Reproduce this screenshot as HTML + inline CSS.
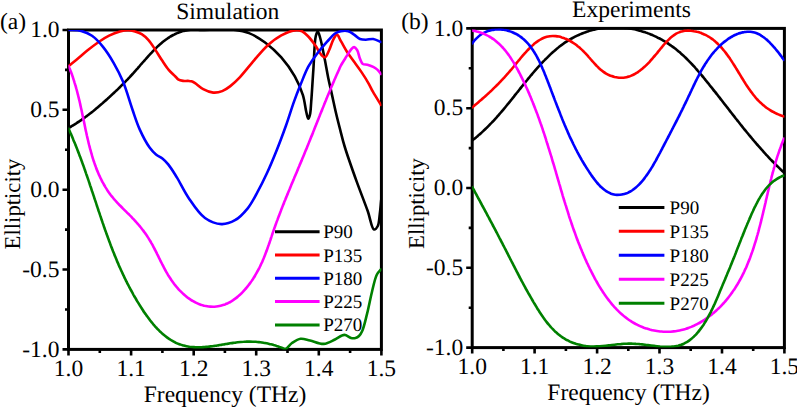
<!DOCTYPE html>
<html><head><meta charset="utf-8">
<style>
html,body{margin:0;padding:0;background:#fff;}
body{width:797px;height:408px;overflow:hidden;}
svg{display:block;text-rendering:geometricPrecision;}
.t{font-family:"Liberation Serif",serif;font-size:23.5px;fill:#000;}
.lg{font-family:"Liberation Serif",serif;font-size:19px;fill:#000;}
.ti{font-family:"Liberation Serif",serif;font-size:23.5px;fill:#000;}
</style></head><body>
<svg width="797" height="408" viewBox="0 0 797 408">
<rect x="68.5" y="30.0" width="312.9" height="319.4" fill="none" stroke="#000" stroke-width="3"/>
<path d="M68.5 349.4 V355.4 M99.8 349.4 V352.9 M131.1 349.4 V355.4 M162.4 349.4 V352.9 M193.7 349.4 V355.4 M224.9 349.4 V352.9 M256.2 349.4 V355.4 M287.5 349.4 V352.9 M318.8 349.4 V355.4 M350.1 349.4 V352.9 M381.4 349.4 V355.4 M68.5 30.0 H62.5 M68.5 69.9 H65.0 M68.5 109.8 H62.5 M68.5 149.8 H65.0 M68.5 189.7 H62.5 M68.5 229.6 H65.0 M68.5 269.5 H62.5 M68.5 309.5 H65.0 M68.5 349.4 H62.5" stroke="#000" stroke-width="2.6" fill="none"/>
<clipPath id="c68"><rect x="68.5" y="30.0" width="312.9" height="319.4"/></clipPath>
<g clip-path="url(#c68)" fill="none" stroke-width="2.6" stroke-linejoin="round" stroke-linecap="round">
<path stroke="#000000" d="M68.5 128.0 C69.4 127.5 70.3 127.0 71.2 126.5 C72.0 126.0 72.9 125.5 73.8 124.9 C74.7 124.4 75.5 123.8 76.4 123.3 C77.2 122.7 78.1 122.2 78.9 121.6 C79.8 121.1 80.6 120.5 81.5 119.9 C82.3 119.3 83.1 118.7 84.0 118.1 C84.8 117.5 85.6 116.9 86.4 116.3 C87.3 115.7 88.1 115.1 88.9 114.5 C89.7 113.9 90.5 113.2 91.3 112.6 C92.1 112.0 92.9 111.3 93.7 110.7 C94.5 110.1 95.3 109.4 96.0 108.8 C96.8 108.1 97.6 107.5 98.4 106.8 C99.2 106.1 99.9 105.5 100.7 104.8 C101.5 104.1 102.3 103.5 103.0 102.8 C103.8 102.1 104.5 101.5 105.3 100.8 C106.1 100.1 106.8 99.4 107.6 98.7 C108.3 98.0 109.1 97.4 109.8 96.7 C110.6 96.0 111.3 95.3 112.1 94.6 C112.8 93.9 113.6 93.2 114.3 92.5 C115.1 91.8 115.8 91.1 116.5 90.4 C117.3 89.7 118.0 89.0 118.7 88.3 C119.5 87.6 120.2 86.8 120.9 86.1 C121.6 85.4 122.4 84.7 123.1 84.0 C123.8 83.2 124.5 82.5 125.2 81.8 C125.9 81.1 126.7 80.3 127.4 79.6 C128.1 78.8 128.8 78.1 129.5 77.4 C130.2 76.6 130.9 75.9 131.5 75.1 C132.2 74.4 132.9 73.6 133.6 72.9 C134.3 72.1 135.0 71.3 135.6 70.6 C136.3 69.8 137.0 69.1 137.7 68.3 C138.3 67.5 139.0 66.8 139.7 66.0 C140.3 65.2 141.0 64.4 141.7 63.7 C142.3 62.9 143.0 62.1 143.7 61.4 C144.4 60.6 145.0 59.8 145.7 59.1 C146.4 58.3 147.1 57.5 147.7 56.8 C148.4 56.0 149.1 55.3 149.8 54.5 C150.5 53.8 151.2 53.0 151.9 52.3 C152.6 51.5 153.3 50.8 154.0 50.1 C154.7 49.4 155.4 48.6 156.2 47.9 C156.9 47.2 157.6 46.5 158.4 45.8 C159.1 45.1 159.9 44.4 160.7 43.8 C161.4 43.1 162.2 42.5 163.0 41.8 C163.8 41.2 164.6 40.6 165.4 40.0 C166.3 39.3 167.1 38.8 167.9 38.2 C168.8 37.6 169.6 37.1 170.5 36.5 C171.4 36.0 172.3 35.5 173.2 35.0 C174.1 34.6 175.0 34.1 175.9 33.7 C176.9 33.3 177.8 32.9 178.8 32.5 C179.7 32.2 180.7 31.8 181.6 31.5 C182.6 31.2 183.6 31.0 184.6 30.7 C185.6 30.5 186.6 30.3 187.6 30.2 C188.6 30.0 189.6 29.9 190.6 29.8 C191.7 29.7 192.7 29.6 193.7 29.6 C194.7 29.6 195.7 29.6 196.8 29.7 C197.8 29.7 198.2 29.8 199.8 29.9 C205.2 30.1 226.5 28.8 235.5 29.9 C241.1 30.6 244.4 31.3 249.0 33.1 C254.3 35.2 259.9 38.7 265.1 42.5 C270.7 46.7 276.4 51.9 281.3 57.4 C286.3 63.1 291.1 69.8 294.8 76.3 C298.2 82.4 301.0 88.9 302.9 95.1 C304.7 100.8 305.2 107.6 306.3 112.0 C307.0 114.8 307.6 118.8 308.3 118.8 C308.9 118.8 309.6 116.3 310.0 114.5 C310.7 111.5 310.8 107.2 311.2 102.0 C311.9 93.6 312.6 80.1 313.4 69.1 C314.2 58.1 314.3 41.9 315.8 36.0 C316.4 33.7 317.1 31.5 317.8 31.5 C318.6 31.5 319.4 35.2 320.2 38.0 C321.7 43.1 323.5 53.1 324.9 60.0 C326.1 66.2 327.0 72.0 328.2 77.7 C329.3 83.0 330.4 87.6 331.6 93.1 C333.0 99.3 334.5 106.6 336.0 113.0 C337.4 119.1 338.9 124.8 340.4 130.6 C341.8 136.2 342.8 140.6 344.8 147.0 C347.7 156.5 352.8 170.8 356.8 181.9 C360.5 192.1 364.7 202.6 367.8 211.3 C370.2 218.1 371.7 228.9 374.0 229.5 C375.2 229.8 376.9 227.7 377.8 226.0 C379.2 223.3 379.2 218.2 379.8 214.0 C380.4 209.5 380.7 204.7 381.2 200.0"/>
<path stroke="#ff0000" d="M68.5 66.2 C71.3 63.9 73.9 61.8 76.8 59.4 C80.2 56.6 84.0 53.2 87.6 50.3 C91.1 47.5 94.7 44.7 98.3 42.2 C101.8 39.8 105.4 37.5 109.1 35.7 C112.6 34.0 116.5 32.5 119.9 31.6 C122.8 30.8 125.4 30.3 128.0 30.3 C130.4 30.3 132.7 30.8 135.0 31.4 C137.3 32.0 139.6 32.8 141.7 34.1 C144.1 35.6 146.4 37.7 148.5 40.1 C150.9 42.8 153.0 46.3 155.2 49.6 C157.5 53.0 159.7 56.9 162.0 60.3 C164.2 63.6 166.3 67.0 168.7 69.8 C170.8 72.3 173.7 74.7 175.4 76.5 C176.5 77.6 177.0 78.6 178.1 79.3 C179.4 80.1 181.4 80.6 183.1 80.9 C184.7 81.2 186.5 80.8 188.0 80.9 C189.3 81.0 190.4 81.0 191.5 81.3 C192.7 81.7 193.7 82.2 195.1 83.1 C197.3 84.5 200.2 87.5 203.2 89.1 C206.2 90.7 209.9 92.3 213.2 92.6 C216.2 92.9 219.4 92.2 222.2 91.1 C225.1 90.0 227.6 88.2 230.3 86.1 C233.5 83.7 236.6 80.7 240.0 77.1 C244.4 72.4 249.6 65.5 254.3 60.1 C258.8 54.9 263.1 49.5 267.8 45.2 C272.1 41.3 276.6 37.8 281.3 35.3 C285.6 33.0 291.0 30.8 294.8 30.4 C297.5 30.1 299.8 30.4 302.0 31.3 C304.3 32.3 306.2 34.4 308.3 36.5 C310.8 39.0 313.4 42.7 315.6 45.8 C317.6 48.6 319.0 52.2 320.8 54.2 C322.1 55.7 323.7 57.6 325.0 57.3 C326.6 57.0 327.9 52.7 329.2 50.0 C330.7 46.9 331.8 42.4 333.3 39.6 C334.4 37.5 335.8 34.5 337.0 34.6 C338.3 34.7 339.5 38.8 340.9 41.2 C342.7 44.2 344.6 48.1 346.8 51.5 C349.0 55.0 351.7 58.4 354.1 61.8 C356.6 65.2 359.1 68.5 361.5 72.1 C364.0 75.8 366.8 80.2 368.8 83.8 C370.4 86.7 371.2 88.8 372.9 91.7 C375.1 95.6 378.3 100.6 381.0 105.0"/>
<path stroke="#0000ff" d="M68.5 29.9 C72.7 30.2 77.2 29.9 81.2 30.9 C85.0 31.9 88.6 33.4 92.0 35.8 C95.9 38.5 99.4 42.4 102.8 46.6 C106.6 51.3 110.3 57.1 113.6 62.8 C117.0 68.7 120.1 74.6 123.0 81.6 C126.5 90.0 129.6 101.4 132.6 110.0 C135.1 117.2 136.9 123.3 139.8 129.6 C142.6 135.8 146.4 143.0 149.6 147.5 C151.8 150.5 153.7 152.6 156.0 154.5 C158.0 156.2 160.4 156.9 162.4 158.5 C164.5 160.2 166.2 161.9 168.2 164.4 C171.0 167.8 173.9 172.7 177.0 177.6 C180.7 183.7 184.2 191.6 188.8 198.2 C193.5 205.1 198.9 213.7 205.0 218.0 C210.0 221.6 216.2 223.9 221.4 224.1 C226.1 224.3 230.8 222.6 235.0 220.2 C239.7 217.6 244.0 212.8 247.7 208.3 C251.5 203.6 254.2 198.0 257.3 192.4 C260.6 186.4 263.8 180.0 266.9 173.3 C270.2 166.2 273.3 158.7 276.4 151.0 C279.7 142.8 283.0 133.9 286.0 125.5 C288.9 117.4 291.4 108.8 294.0 101.6 C296.1 95.7 297.9 91.1 300.2 85.5 C302.7 79.5 305.3 72.2 308.3 66.7 C310.9 62.0 313.6 58.3 316.7 54.2 C319.9 50.0 323.8 45.4 327.1 41.7 C329.9 38.6 332.4 35.3 335.0 33.5 C337.0 32.2 338.8 31.6 340.9 31.2 C343.2 30.8 346.0 30.6 348.2 31.2 C350.4 31.8 352.2 33.3 354.1 34.6 C356.1 35.9 357.9 38.2 360.0 39.0 C361.9 39.7 363.8 39.7 365.9 39.7 C368.2 39.7 370.8 38.7 373.2 39.0 C375.8 39.4 378.4 41.0 381.0 42.0"/>
<path stroke="#ff00ff" d="M68.5 66.0 C68.9 66.9 69.3 67.9 69.7 68.8 C70.1 69.7 70.4 70.7 70.8 71.6 C71.2 72.5 71.5 73.5 71.9 74.4 C72.2 75.4 72.5 76.3 72.9 77.3 C73.2 78.2 73.5 79.2 73.8 80.2 C74.1 81.1 74.4 82.1 74.7 83.1 C75.0 84.0 75.3 85.0 75.6 86.0 C75.9 86.9 76.1 87.9 76.4 88.9 C76.7 89.8 76.9 90.8 77.2 91.8 C77.5 92.8 77.7 93.7 77.9 94.7 C78.2 95.7 78.4 96.7 78.7 97.7 C78.9 98.6 79.1 99.6 79.4 100.6 C79.6 101.6 79.8 102.6 80.1 103.6 C80.3 104.5 80.5 105.5 80.7 106.5 C80.9 107.5 81.1 108.5 81.4 109.5 C81.6 110.5 81.8 111.4 82.0 112.4 C82.2 113.4 82.4 114.4 82.6 115.4 C82.8 116.4 83.0 117.4 83.2 118.3 C83.4 119.3 83.6 120.3 83.9 121.3 C84.1 122.3 84.3 123.3 84.5 124.3 C84.7 125.3 84.9 126.3 85.1 127.2 C85.3 128.2 85.5 129.2 85.7 130.2 C85.9 131.2 86.2 132.2 86.4 133.2 C86.6 134.1 86.8 135.1 87.0 136.1 C87.3 137.1 87.5 138.1 87.7 139.1 C87.9 140.0 88.2 141.0 88.4 142.0 C88.6 143.0 88.9 144.0 89.1 144.9 C89.4 145.9 89.6 146.9 89.9 147.9 C90.1 148.9 90.4 149.8 90.7 150.8 C90.9 151.8 91.2 152.7 91.5 153.7 C91.8 154.7 92.0 155.7 92.3 156.6 C92.6 157.6 92.9 158.5 93.2 159.5 C93.5 160.5 93.9 161.4 94.2 162.4 C94.5 163.3 94.8 164.3 95.2 165.2 C95.5 166.2 95.9 167.1 96.2 168.1 C96.6 169.0 97.0 170.0 97.3 170.9 C97.7 171.8 98.1 172.8 98.5 173.7 C98.9 174.6 99.3 175.5 99.8 176.4 C100.2 177.4 100.6 178.3 101.1 179.2 C101.5 180.1 102.0 181.0 102.4 181.9 C102.9 182.8 103.4 183.6 103.9 184.5 C104.4 185.4 104.9 186.3 105.4 187.1 C106.0 188.0 106.5 188.8 107.0 189.7 C107.6 190.5 108.2 191.4 108.7 192.2 C109.3 193.0 109.9 193.8 110.5 194.7 C111.1 195.5 111.7 196.3 112.4 197.0 C113.0 197.8 113.7 198.6 114.3 199.4 C115.0 200.1 115.6 200.9 116.3 201.6 C117.0 202.4 117.7 203.1 118.4 203.8 C119.1 204.6 119.8 205.3 120.5 206.0 C121.2 206.7 121.9 207.4 122.6 208.2 C123.4 208.9 124.1 209.6 124.8 210.3 C125.5 211.0 126.2 211.7 126.9 212.4 C127.7 213.1 128.4 213.8 129.1 214.5 C129.8 215.3 130.5 216.0 131.2 216.7 C131.9 217.4 132.6 218.2 133.3 218.9 C134.0 219.6 134.7 220.4 135.3 221.1 C136.0 221.9 136.7 222.6 137.3 223.4 C138.0 224.2 138.7 224.9 139.3 225.7 C140.0 226.5 140.6 227.3 141.2 228.0 C141.8 228.8 142.5 229.6 143.1 230.4 C143.7 231.2 144.3 232.0 144.9 232.9 C145.5 233.7 146.0 234.5 146.6 235.3 C147.2 236.2 147.7 237.0 148.3 237.9 C148.8 238.7 149.3 239.6 149.9 240.5 C150.4 241.3 150.9 242.2 151.4 243.1 C151.9 243.9 152.4 244.8 152.9 245.7 C153.3 246.6 153.8 247.5 154.3 248.4 C154.7 249.3 155.2 250.2 155.7 251.1 C156.1 252.0 156.6 252.9 157.0 253.8 C157.5 254.7 157.9 255.6 158.4 256.5 C158.8 257.4 159.2 258.3 159.7 259.2 C160.1 260.1 160.6 261.0 161.0 261.9 C161.5 262.8 161.9 263.7 162.4 264.6 C162.9 265.5 163.3 266.4 163.8 267.3 C164.3 268.2 164.7 269.1 165.2 270.0 C165.7 270.9 166.2 271.7 166.7 272.6 C167.2 273.5 167.7 274.4 168.2 275.2 C168.8 276.1 169.3 276.9 169.9 277.8 C170.4 278.6 171.0 279.5 171.5 280.3 C172.1 281.1 172.7 282.0 173.3 282.8 C173.9 283.6 174.5 284.4 175.1 285.2 C175.8 286.0 176.4 286.7 177.1 287.5 C177.7 288.3 178.4 289.0 179.1 289.8 C179.8 290.5 180.5 291.2 181.2 291.9 C181.9 292.6 182.6 293.3 183.4 294.0 C184.1 294.7 184.9 295.4 185.7 296.0 C186.4 296.6 187.2 297.3 188.0 297.9 C188.9 298.5 189.7 299.1 190.5 299.6 C191.4 300.2 192.2 300.7 193.1 301.2 C194.0 301.7 194.9 302.2 195.8 302.6 C196.7 303.1 197.6 303.5 198.5 303.9 C199.4 304.3 200.4 304.6 201.3 304.9 C202.3 305.3 203.3 305.5 204.3 305.8 C205.2 306.0 206.2 306.2 207.2 306.3 C208.2 306.5 209.2 306.6 210.2 306.6 C211.3 306.7 212.3 306.7 213.3 306.7 C214.3 306.7 215.3 306.6 216.3 306.5 C217.3 306.4 218.3 306.3 219.3 306.1 C220.3 305.9 221.3 305.6 222.2 305.3 C223.2 305.1 224.1 304.7 225.1 304.4 C226.0 304.0 227.0 303.6 227.9 303.2 C228.8 302.7 229.7 302.3 230.5 301.8 C231.4 301.3 232.3 300.7 233.1 300.2 C234.0 299.6 234.8 299.0 235.6 298.4 C236.4 297.8 237.2 297.2 237.9 296.5 C238.7 295.9 239.5 295.2 240.2 294.5 C240.9 293.8 241.7 293.1 242.4 292.4 C243.1 291.7 243.8 290.9 244.4 290.2 C245.1 289.4 245.8 288.7 246.4 287.9 C247.1 287.1 247.7 286.3 248.3 285.5 C248.9 284.7 249.5 283.9 250.1 283.1 C250.7 282.3 251.3 281.5 251.9 280.6 C252.4 279.8 253.0 279.0 253.5 278.1 C254.1 277.3 254.6 276.4 255.1 275.5 C255.6 274.7 256.1 273.8 256.6 272.9 C257.1 272.0 257.6 271.1 258.1 270.3 C258.6 269.4 259.0 268.5 259.5 267.6 C259.9 266.7 260.4 265.8 260.8 264.8 C261.2 263.9 261.6 263.0 262.1 262.1 C262.5 261.2 262.9 260.2 263.3 259.3 C263.7 258.4 264.0 257.5 264.4 256.5 C264.8 255.6 265.2 254.6 265.5 253.7 C265.9 252.8 266.2 251.8 266.6 250.9 C266.9 249.9 267.3 249.0 267.6 248.0 C267.9 247.1 268.3 246.1 268.6 245.2 C268.9 244.2 269.3 243.3 269.6 242.3 C269.9 241.3 270.2 240.4 270.6 239.4 C270.9 238.5 271.2 237.5 271.5 236.6 C271.8 235.6 272.2 234.7 272.5 233.7 C272.8 232.7 273.1 231.8 273.5 230.8 C273.8 229.9 274.1 228.9 274.5 228.0 C274.8 227.0 275.2 226.1 275.5 225.1 C275.8 224.2 276.2 223.2 276.5 222.3 C276.9 221.3 277.2 220.4 277.6 219.4 C277.9 218.5 278.3 217.6 278.6 216.6 C279.0 215.7 279.4 214.7 279.7 213.8 C280.1 212.8 280.4 211.9 280.8 211.0 C281.2 210.0 281.5 209.1 281.9 208.1 C282.3 207.2 282.6 206.3 283.0 205.3 C283.4 204.4 283.8 203.4 284.1 202.5 C284.5 201.6 284.9 200.6 285.3 199.7 C285.6 198.8 286.0 197.8 286.4 196.9 C286.8 196.0 287.2 195.0 287.6 194.1 C287.9 193.2 288.3 192.2 288.7 191.3 C289.1 190.4 289.5 189.4 289.9 188.5 C290.2 187.6 290.6 186.6 291.0 185.7 C291.4 184.8 291.8 183.8 292.2 182.9 C292.6 182.0 293.0 181.0 293.4 180.1 C293.7 179.2 294.1 178.3 294.5 177.3 C294.9 176.4 295.3 175.5 295.7 174.5 C296.1 173.6 296.5 172.7 296.9 171.7 C297.3 170.8 297.7 169.9 298.0 169.0 C298.4 168.0 298.8 167.1 299.2 166.2 C299.6 165.2 300.0 164.3 300.4 163.4 C300.8 162.4 301.2 161.5 301.6 160.6 C301.9 159.7 302.3 158.7 302.7 157.8 C303.1 156.9 303.5 155.9 303.9 155.0 C304.3 154.1 304.7 153.1 305.0 152.2 C305.4 151.3 305.8 150.3 306.2 149.4 C306.6 148.5 307.0 147.5 307.3 146.6 C307.7 145.7 308.1 144.7 308.5 143.8 C308.9 142.9 309.2 141.9 309.6 141.0 C310.0 140.1 310.4 139.1 310.7 138.2 C311.1 137.2 311.5 136.3 311.9 135.4 C312.3 134.4 312.6 133.5 313.0 132.6 C313.4 131.6 313.7 130.7 314.1 129.7 C314.5 128.8 314.9 127.9 315.2 126.9 C315.6 126.0 316.0 125.1 316.4 124.1 C316.7 123.2 317.1 122.2 317.5 121.3 C317.8 120.4 318.2 119.4 318.6 118.5 C319.0 117.6 319.3 116.6 319.7 115.7 C320.1 114.7 320.5 113.8 320.8 112.9 C321.2 111.9 321.6 111.0 322.0 110.1 C322.3 109.1 322.7 108.2 323.1 107.3 C323.5 106.3 323.8 105.4 324.2 104.4 C324.6 103.5 325.0 102.6 325.4 101.6 C325.7 100.7 326.1 99.8 326.5 98.8 C326.9 97.9 327.3 97.0 327.6 96.0 C328.0 95.1 328.4 94.2 328.8 93.2 C329.2 92.3 329.6 91.4 330.0 90.4 C330.4 89.5 330.7 88.6 331.1 87.7 C331.5 86.7 331.9 85.8 332.3 84.9 C332.7 83.9 333.1 83.0 333.5 82.1 C333.9 81.2 334.3 80.2 334.7 79.3 C335.1 78.4 335.5 77.5 335.9 76.5 C336.3 75.6 336.7 74.7 337.1 73.8 C337.6 72.8 338.0 71.9 338.4 71.0 C338.8 70.1 339.2 69.2 339.6 68.2 C340.1 67.3 340.3 66.7 340.9 65.5 C342.1 63.2 345.0 58.8 346.8 55.9 C348.4 53.5 349.8 50.8 351.2 49.3 C352.2 48.3 353.1 47.0 354.1 47.1 C355.1 47.2 356.2 48.6 357.1 50.0 C358.4 52.0 358.9 56.3 360.0 58.8 C360.9 60.8 361.5 63.0 362.9 64.0 C364.1 64.8 365.8 64.3 367.4 64.7 C369.2 65.2 371.4 66.0 373.2 66.9 C374.8 67.7 376.3 68.7 377.6 69.9 C378.9 71.1 379.9 72.6 381.0 74.0"/>
<path stroke="#008000" d="M68.5 128.6 C68.9 129.5 69.3 130.4 69.7 131.4 C70.1 132.3 70.6 133.2 71.0 134.1 C71.4 135.1 71.8 136.0 72.2 136.9 C72.6 137.9 73.0 138.8 73.3 139.7 C73.7 140.7 74.1 141.6 74.5 142.5 C74.9 143.5 75.3 144.4 75.6 145.3 C76.0 146.3 76.4 147.2 76.8 148.2 C77.1 149.1 77.5 150.0 77.9 151.0 C78.2 151.9 78.6 152.9 79.0 153.8 C79.3 154.8 79.7 155.7 80.0 156.6 C80.4 157.6 80.7 158.5 81.1 159.5 C81.4 160.4 81.8 161.4 82.1 162.3 C82.5 163.3 82.8 164.2 83.2 165.2 C83.5 166.1 83.9 167.1 84.2 168.0 C84.5 169.0 84.9 170.0 85.2 170.9 C85.5 171.9 85.9 172.8 86.2 173.8 C86.5 174.7 86.9 175.7 87.2 176.6 C87.5 177.6 87.9 178.6 88.2 179.5 C88.5 180.5 88.8 181.4 89.2 182.4 C89.5 183.3 89.8 184.3 90.1 185.3 C90.4 186.2 90.8 187.2 91.1 188.1 C91.4 189.1 91.7 190.1 92.0 191.0 C92.4 192.0 92.7 192.9 93.0 193.9 C93.3 194.9 93.6 195.8 94.0 196.8 C94.3 197.7 94.6 198.7 94.9 199.7 C95.2 200.6 95.6 201.6 95.9 202.5 C96.2 203.5 96.5 204.5 96.8 205.4 C97.1 206.4 97.5 207.3 97.8 208.3 C98.1 209.3 98.4 210.2 98.7 211.2 C99.1 212.1 99.4 213.1 99.7 214.0 C100.0 215.0 100.3 216.0 100.7 216.9 C101.0 217.9 101.3 218.8 101.6 219.8 C102.0 220.8 102.3 221.7 102.6 222.7 C103.0 223.6 103.3 224.6 103.6 225.5 C103.9 226.5 104.3 227.4 104.6 228.4 C104.9 229.4 105.3 230.3 105.6 231.3 C106.0 232.2 106.3 233.2 106.6 234.1 C107.0 235.1 107.3 236.0 107.7 237.0 C108.0 237.9 108.4 238.9 108.7 239.8 C109.1 240.8 109.4 241.7 109.8 242.7 C110.1 243.6 110.5 244.6 110.8 245.5 C111.2 246.4 111.6 247.4 111.9 248.3 C112.3 249.3 112.7 250.2 113.0 251.2 C113.4 252.1 113.8 253.0 114.2 254.0 C114.5 254.9 114.9 255.9 115.3 256.8 C115.7 257.7 116.1 258.7 116.5 259.6 C116.8 260.5 117.2 261.5 117.6 262.4 C118.0 263.3 118.4 264.2 118.8 265.2 C119.2 266.1 119.6 267.0 120.1 268.0 C120.5 268.9 120.9 269.8 121.3 270.7 C121.7 271.6 122.1 272.6 122.6 273.5 C123.0 274.4 123.4 275.3 123.9 276.2 C124.3 277.1 124.7 278.0 125.2 279.0 C125.6 279.9 126.1 280.8 126.5 281.7 C127.0 282.6 127.4 283.5 127.9 284.4 C128.4 285.3 128.8 286.2 129.3 287.1 C129.8 288.0 130.2 288.9 130.7 289.8 C131.2 290.6 131.7 291.5 132.2 292.4 C132.7 293.3 133.1 294.2 133.6 295.1 C134.1 295.9 134.6 296.8 135.2 297.7 C135.7 298.6 136.2 299.4 136.7 300.3 C137.2 301.2 137.7 302.0 138.3 302.9 C138.8 303.8 139.3 304.6 139.9 305.5 C140.4 306.3 140.9 307.2 141.5 308.0 C142.0 308.9 142.6 309.7 143.1 310.6 C143.7 311.4 144.3 312.3 144.8 313.1 C145.4 313.9 146.0 314.8 146.6 315.6 C147.2 316.4 147.8 317.2 148.4 318.0 C149.0 318.9 149.6 319.7 150.2 320.5 C150.8 321.3 151.5 322.0 152.1 322.8 C152.7 323.6 153.4 324.4 154.0 325.2 C154.7 325.9 155.4 326.7 156.1 327.4 C156.7 328.2 157.4 328.9 158.1 329.6 C158.9 330.3 159.6 331.1 160.3 331.8 C161.0 332.4 161.8 333.1 162.5 333.8 C163.3 334.5 164.1 335.1 164.9 335.8 C165.7 336.4 166.5 337.0 167.3 337.6 C168.1 338.2 168.9 338.8 169.8 339.3 C170.6 339.9 171.5 340.4 172.4 340.9 C173.2 341.4 174.1 341.9 175.0 342.3 C175.9 342.8 176.9 343.2 177.8 343.6 C178.7 344.0 179.7 344.3 180.6 344.6 C181.6 345.0 182.6 345.2 183.6 345.5 C184.5 345.8 185.5 346.0 186.5 346.2 C187.5 346.4 188.5 346.5 189.5 346.7 C190.5 346.8 191.5 346.9 192.5 347.0 C193.5 347.1 194.5 347.1 195.5 347.2 C196.6 347.2 197.6 347.2 198.6 347.2 C199.6 347.2 200.6 347.2 201.6 347.2 C202.6 347.1 203.6 347.1 204.6 347.0 C205.7 346.9 206.7 346.9 207.7 346.8 C208.7 346.7 209.7 346.5 210.7 346.4 C211.7 346.3 212.7 346.2 213.7 346.0 C214.7 345.9 215.7 345.7 216.7 345.6 C217.7 345.4 218.7 345.3 219.7 345.1 C220.7 344.9 221.7 344.8 222.7 344.6 C223.7 344.4 224.7 344.3 225.7 344.1 C226.7 343.9 227.7 343.8 228.7 343.6 C229.7 343.5 230.7 343.3 231.7 343.1 C232.7 343.0 233.7 342.8 234.7 342.7 C235.7 342.6 236.7 342.4 237.7 342.3 C238.7 342.2 239.7 342.1 240.7 342.0 C241.7 341.9 242.7 341.8 243.7 341.8 C244.7 341.7 245.7 341.7 246.7 341.6 C247.8 341.6 248.8 341.6 249.8 341.6 C250.8 341.6 251.8 341.6 252.8 341.7 C253.8 341.7 254.8 341.8 255.8 341.8 C256.8 341.9 257.9 342.0 258.9 342.1 C259.9 342.2 260.9 342.4 261.9 342.5 C262.9 342.7 263.9 342.8 264.9 343.0 C265.9 343.2 266.9 343.4 267.8 343.6 C268.8 343.8 269.8 344.1 270.8 344.3 C271.8 344.5 272.8 344.8 273.7 345.1 C274.7 345.4 275.7 345.6 276.6 346.0 C277.6 346.3 278.6 346.6 279.5 346.9 C280.5 347.2 281.4 347.6 282.4 347.9 C283.3 348.3 284.1 349.2 285.2 349.0 C287.1 348.7 289.5 344.7 292.0 343.0 C294.6 341.3 297.6 339.2 300.6 338.8 C303.6 338.4 306.6 339.8 310.0 340.5 C314.2 341.4 319.5 344.2 323.8 343.9 C327.8 343.6 331.5 341.1 335.0 339.5 C338.3 338.0 341.5 334.9 344.4 334.9 C346.8 334.9 349.0 337.4 351.0 337.9 C352.6 338.3 354.1 338.3 355.5 338.0 C356.8 337.7 358.0 337.0 359.0 336.0 C360.3 334.8 361.2 333.3 362.2 331.0 C364.0 327.1 365.5 319.8 367.1 313.7 C368.8 306.8 370.3 298.6 372.0 291.7 C373.5 285.6 374.9 278.4 376.9 274.5 C378.1 272.1 379.6 271.1 381.0 269.4"/>
</g>
<text x="68.5" y="375.7" text-anchor="middle" class="t">1.0</text>
<text x="131.1" y="375.7" text-anchor="middle" class="t">1.1</text>
<text x="193.7" y="375.7" text-anchor="middle" class="t">1.2</text>
<text x="256.2" y="375.7" text-anchor="middle" class="t">1.3</text>
<text x="318.8" y="375.7" text-anchor="middle" class="t">1.4</text>
<text x="381.4" y="375.7" text-anchor="middle" class="t">1.5</text>
<text x="59.5" y="37.2" text-anchor="end" class="t">1.0</text>
<text x="59.5" y="117.0" text-anchor="end" class="t">0.5</text>
<text x="59.5" y="196.9" text-anchor="end" class="t">0.0</text>
<text x="59.5" y="276.7" text-anchor="end" class="t">-0.5</text>
<text x="59.5" y="356.6" text-anchor="end" class="t">-1.0</text>
<path d="M275.0 231.7 H319.6" stroke="#000000" stroke-width="3" fill="none"/>
<text x="323.3" y="238.2" class="lg">P90</text>
<path d="M275.0 255.0 H319.6" stroke="#ff0000" stroke-width="3" fill="none"/>
<text x="323.3" y="261.5" class="lg">P135</text>
<path d="M275.0 278.3 H319.6" stroke="#0000ff" stroke-width="3" fill="none"/>
<text x="323.3" y="284.8" class="lg">P180</text>
<path d="M275.0 301.6 H319.6" stroke="#ff00ff" stroke-width="3" fill="none"/>
<text x="323.3" y="308.1" class="lg">P225</text>
<path d="M275.0 324.9 H319.6" stroke="#008000" stroke-width="3" fill="none"/>
<text x="323.3" y="331.4" class="lg">P270</text>
<text x="227.8" y="18.8" text-anchor="middle" class="ti">Simulation</text>
<text x="0.0" y="28.8" class="ti">(a)</text>
<text x="225.0" y="402.4" text-anchor="middle" class="ti">Frequency (THz)</text>
<text transform="translate(20.2 204.0) rotate(-90)" text-anchor="middle" class="ti" style="font-size:22.7px">Ellipticity</text>
<rect x="472.2" y="28.4" width="312.2" height="319.2" fill="none" stroke="#000" stroke-width="3"/>
<path d="M472.2 347.6 V353.6 M503.4 347.6 V351.1 M534.6 347.6 V353.6 M565.9 347.6 V351.1 M597.1 347.6 V353.6 M628.3 347.6 V351.1 M659.5 347.6 V353.6 M690.7 347.6 V351.1 M722.0 347.6 V353.6 M753.2 347.6 V351.1 M784.4 347.6 V353.6 M472.2 28.4 H466.2 M472.2 68.3 H468.7 M472.2 108.2 H466.2 M472.2 148.1 H468.7 M472.2 188.0 H466.2 M472.2 227.9 H468.7 M472.2 267.8 H466.2 M472.2 307.7 H468.7 M472.2 347.6 H466.2" stroke="#000" stroke-width="2.6" fill="none"/>
<clipPath id="c472"><rect x="472.2" y="28.4" width="312.2" height="319.2"/></clipPath>
<g clip-path="url(#c472)" fill="none" stroke-width="2.6" stroke-linejoin="round" stroke-linecap="round">
<path stroke="#000000" d="M472.2 140.5 C473.0 139.9 473.8 139.2 474.6 138.6 C475.4 138.0 476.1 137.3 476.9 136.7 C477.7 136.0 478.5 135.4 479.2 134.7 C480.0 134.0 480.7 133.4 481.5 132.7 C482.2 132.0 483.0 131.3 483.7 130.6 C484.5 129.9 485.2 129.2 485.9 128.5 C486.6 127.8 487.4 127.1 488.1 126.4 C488.8 125.7 489.5 125.0 490.2 124.2 C490.9 123.5 491.6 122.8 492.3 122.0 C493.0 121.3 493.7 120.6 494.4 119.8 C495.0 119.1 495.7 118.3 496.4 117.6 C497.1 116.8 497.7 116.1 498.4 115.3 C499.1 114.5 499.7 113.8 500.4 113.0 C501.1 112.2 501.7 111.5 502.4 110.7 C503.0 109.9 503.7 109.2 504.3 108.4 C505.0 107.6 505.6 106.8 506.3 106.0 C506.9 105.3 507.5 104.5 508.2 103.7 C508.8 102.9 509.4 102.1 510.1 101.3 C510.7 100.5 511.4 99.8 512.0 99.0 C512.6 98.2 513.2 97.4 513.9 96.6 C514.5 95.8 515.1 95.0 515.8 94.2 C516.4 93.4 517.0 92.6 517.7 91.9 C518.3 91.1 518.9 90.3 519.5 89.5 C520.2 88.7 520.8 87.9 521.4 87.1 C522.1 86.3 522.7 85.5 523.3 84.7 C524.0 83.9 524.6 83.2 525.2 82.4 C525.9 81.6 526.5 80.8 527.2 80.0 C527.8 79.2 528.4 78.5 529.1 77.7 C529.7 76.9 530.4 76.1 531.0 75.3 C531.7 74.6 532.3 73.8 533.0 73.0 C533.6 72.3 534.3 71.5 535.0 70.7 C535.6 70.0 536.3 69.2 537.0 68.4 C537.6 67.7 538.3 66.9 539.0 66.2 C539.7 65.4 540.3 64.7 541.0 63.9 C541.7 63.2 542.4 62.5 543.1 61.7 C543.8 61.0 544.5 60.3 545.2 59.5 C545.9 58.8 546.6 58.1 547.4 57.4 C548.1 56.7 548.8 56.0 549.5 55.3 C550.3 54.6 551.0 53.9 551.7 53.2 C552.5 52.5 553.2 51.8 554.0 51.2 C554.8 50.5 555.5 49.9 556.3 49.2 C557.1 48.6 557.9 47.9 558.7 47.3 C559.5 46.7 560.3 46.0 561.1 45.4 C561.9 44.8 562.7 44.2 563.5 43.6 C564.3 43.1 565.2 42.5 566.0 41.9 C566.9 41.4 567.7 40.8 568.6 40.3 C569.4 39.8 570.3 39.2 571.2 38.7 C572.1 38.2 572.9 37.8 573.8 37.3 C574.7 36.8 575.6 36.4 576.6 35.9 C577.5 35.5 578.4 35.1 579.3 34.7 C580.2 34.3 581.2 33.9 582.1 33.5 C583.1 33.1 584.0 32.8 585.0 32.4 C585.9 32.1 586.9 31.8 587.8 31.4 C588.8 31.1 589.8 30.8 590.7 30.6 C591.7 30.3 592.7 30.0 593.7 29.8 C594.6 29.6 595.6 29.3 596.6 29.1 C597.6 28.9 598.6 28.7 599.6 28.5 C600.6 28.4 601.6 28.2 602.6 28.1 C603.6 27.9 604.6 27.8 605.6 27.7 C606.6 27.6 607.6 27.5 608.6 27.4 C609.6 27.4 610.7 27.3 611.7 27.3 C612.7 27.2 613.7 27.2 614.7 27.2 C615.7 27.2 616.7 27.2 617.7 27.2 C618.7 27.3 619.8 27.3 620.8 27.4 C621.8 27.4 622.8 27.5 623.8 27.6 C624.8 27.7 625.8 27.8 626.8 28.0 C627.8 28.1 628.8 28.3 629.8 28.4 C630.8 28.6 631.8 28.8 632.8 29.0 C633.8 29.2 634.8 29.4 635.7 29.6 C636.7 29.9 637.7 30.1 638.7 30.4 C639.7 30.6 640.6 30.9 641.6 31.2 C642.6 31.5 643.5 31.8 644.5 32.1 C645.5 32.4 646.4 32.8 647.4 33.1 C648.3 33.5 649.3 33.8 650.2 34.2 C651.1 34.6 652.1 35.0 653.0 35.4 C653.9 35.8 654.8 36.2 655.8 36.6 C656.7 37.1 657.6 37.5 658.5 38.0 C659.4 38.4 660.3 38.9 661.2 39.4 C662.1 39.9 662.9 40.4 663.8 40.9 C664.7 41.4 665.5 41.9 666.4 42.5 C667.3 43.0 668.1 43.5 668.9 44.1 C669.8 44.7 670.6 45.2 671.4 45.8 C672.3 46.4 673.1 47.0 673.9 47.6 C674.7 48.2 675.5 48.9 676.3 49.5 C677.1 50.1 677.9 50.8 678.6 51.4 C679.4 52.1 680.2 52.7 680.9 53.4 C681.7 54.1 682.4 54.7 683.2 55.4 C683.9 56.1 684.6 56.8 685.4 57.5 C686.1 58.2 686.8 58.9 687.5 59.6 C688.3 60.4 689.0 61.1 689.7 61.8 C690.4 62.5 691.1 63.3 691.8 64.0 C692.5 64.7 693.1 65.5 693.8 66.2 C694.5 67.0 695.2 67.7 695.8 68.5 C696.5 69.3 697.2 70.0 697.8 70.8 C698.5 71.5 699.2 72.3 699.8 73.1 C700.5 73.9 701.1 74.6 701.8 75.4 C702.4 76.2 703.1 77.0 703.7 77.7 C704.3 78.5 705.0 79.3 705.6 80.1 C706.3 80.9 706.9 81.7 707.5 82.5 C708.2 83.2 708.8 84.0 709.4 84.8 C710.1 85.6 710.7 86.4 711.3 87.2 C712.0 88.0 712.6 88.8 713.2 89.6 C713.8 90.4 714.5 91.2 715.1 91.9 C715.7 92.7 716.3 93.5 717.0 94.3 C717.6 95.1 718.2 95.9 718.8 96.7 C719.5 97.5 720.1 98.3 720.7 99.1 C721.3 99.9 722.0 100.7 722.6 101.5 C723.2 102.3 723.8 103.1 724.4 103.9 C725.1 104.7 725.7 105.5 726.3 106.3 C726.9 107.1 727.5 107.9 728.2 108.7 C728.8 109.5 729.4 110.3 730.0 111.1 C730.6 111.9 731.3 112.7 731.9 113.5 C732.5 114.3 733.1 115.1 733.8 115.9 C734.4 116.7 735.0 117.5 735.6 118.3 C736.3 119.0 736.9 119.8 737.5 120.6 C738.1 121.4 738.8 122.2 739.4 123.0 C740.0 123.8 740.7 124.6 741.3 125.4 C741.9 126.2 742.6 127.0 743.2 127.8 C743.8 128.5 744.5 129.3 745.1 130.1 C745.7 130.9 746.4 131.7 747.0 132.5 C747.7 133.3 748.3 134.0 748.9 134.8 C749.6 135.6 750.2 136.4 750.9 137.1 C751.5 137.9 752.2 138.7 752.8 139.5 C753.5 140.2 754.1 141.0 754.8 141.8 C755.4 142.6 756.1 143.3 756.8 144.1 C757.4 144.9 758.1 145.6 758.8 146.4 C759.4 147.1 760.1 147.9 760.8 148.7 C761.4 149.4 762.1 150.2 762.8 150.9 C763.5 151.7 764.1 152.4 764.8 153.2 C765.5 153.9 766.2 154.7 766.9 155.4 C767.6 156.1 768.3 156.9 768.9 157.6 C769.6 158.4 770.3 159.1 771.0 159.8 C771.7 160.5 772.4 161.3 773.2 162.0 C773.9 162.7 774.6 163.4 775.3 164.2 C776.0 164.9 776.7 165.6 777.4 166.3 C778.2 167.0 778.9 167.7 779.6 168.4 C780.3 169.1 781.1 169.8 781.8 170.5 C782.5 171.2 783.3 171.9 784.0 172.6"/>
<path stroke="#ff0000" d="M472.2 107.4 C473.0 106.8 473.8 106.1 474.5 105.5 C475.3 104.8 476.1 104.2 476.9 103.5 C477.7 102.9 478.4 102.2 479.2 101.5 C480.0 100.9 480.7 100.2 481.5 99.6 C482.3 98.9 483.0 98.2 483.8 97.5 C484.6 96.9 485.3 96.2 486.1 95.5 C486.8 94.8 487.6 94.1 488.3 93.5 C489.1 92.8 489.8 92.1 490.5 91.4 C491.3 90.7 492.0 90.0 492.7 89.3 C493.5 88.6 494.2 87.9 494.9 87.2 C495.6 86.4 496.4 85.7 497.1 85.0 C497.8 84.3 498.5 83.6 499.2 82.8 C499.9 82.1 500.6 81.4 501.3 80.6 C502.0 79.9 502.7 79.2 503.4 78.4 C504.1 77.7 504.8 76.9 505.5 76.2 C506.1 75.4 506.8 74.7 507.5 73.9 C508.2 73.1 508.8 72.4 509.5 71.6 C510.2 70.8 510.8 70.1 511.5 69.3 C512.1 68.5 512.8 67.7 513.4 67.0 C514.1 66.2 514.7 65.4 515.4 64.6 C516.0 63.8 516.6 63.0 517.3 62.2 C517.9 61.5 518.5 60.7 519.2 59.9 C519.8 59.1 520.5 58.3 521.1 57.5 C521.8 56.7 522.4 56.0 523.1 55.2 C523.8 54.4 524.4 53.7 525.1 52.9 C525.8 52.2 526.5 51.4 527.2 50.7 C527.9 49.9 528.6 49.2 529.3 48.5 C530.0 47.8 530.7 47.1 531.5 46.4 C532.2 45.7 533.0 45.0 533.7 44.3 C534.5 43.7 535.3 43.0 536.1 42.4 C536.9 41.8 537.7 41.2 538.6 40.6 C539.4 40.1 540.3 39.6 541.2 39.1 C542.1 38.6 543.0 38.2 543.9 37.8 C544.9 37.4 545.8 37.1 546.8 36.8 C547.8 36.6 548.8 36.4 549.8 36.2 C550.8 36.1 551.8 36.0 552.8 36.0 C553.8 36.0 554.9 36.0 555.9 36.1 C556.9 36.2 557.9 36.4 558.9 36.6 C559.9 36.8 560.9 37.1 561.8 37.4 C562.8 37.7 563.8 38.0 564.7 38.4 C565.6 38.7 566.6 39.2 567.5 39.6 C568.4 40.0 569.3 40.5 570.2 41.0 C571.1 41.5 571.9 42.0 572.8 42.6 C573.6 43.1 574.5 43.7 575.3 44.3 C576.1 44.9 576.9 45.5 577.7 46.2 C578.5 46.8 579.3 47.4 580.1 48.1 C580.8 48.8 581.6 49.5 582.3 50.2 C583.0 50.9 583.8 51.6 584.5 52.3 C585.2 53.0 585.9 53.8 586.6 54.5 C587.3 55.3 587.9 56.0 588.6 56.8 C589.3 57.5 589.9 58.3 590.6 59.1 C591.3 59.8 591.9 60.6 592.6 61.4 C593.3 62.1 593.9 62.9 594.6 63.6 C595.3 64.4 596.0 65.1 596.7 65.9 C597.4 66.6 598.1 67.3 598.8 68.0 C599.6 68.7 600.3 69.4 601.1 70.0 C601.9 70.7 602.7 71.3 603.5 71.9 C604.3 72.5 605.2 73.1 606.1 73.6 C606.9 74.1 607.8 74.6 608.8 75.0 C609.7 75.4 610.6 75.8 611.6 76.1 C612.5 76.4 613.5 76.7 614.5 77.0 C615.5 77.2 616.5 77.4 617.5 77.5 C618.5 77.7 619.5 77.8 620.5 77.8 C621.5 77.8 622.6 77.8 623.6 77.7 C624.6 77.6 625.6 77.4 626.6 77.2 C627.6 77.0 628.5 76.7 629.5 76.4 C630.5 76.0 631.4 75.7 632.3 75.2 C633.3 74.8 634.2 74.4 635.0 73.9 C635.9 73.4 636.8 72.8 637.6 72.3 C638.5 71.7 639.3 71.1 640.1 70.5 C640.9 69.9 641.7 69.2 642.5 68.6 C643.3 67.9 644.0 67.3 644.8 66.6 C645.5 65.9 646.2 65.2 647.0 64.5 C647.7 63.7 648.4 63.0 649.1 62.3 C649.8 61.5 650.5 60.8 651.1 60.0 C651.8 59.3 652.5 58.5 653.1 57.7 C653.8 57.0 654.5 56.2 655.1 55.4 C655.8 54.6 656.4 53.9 657.1 53.1 C657.7 52.3 658.3 51.5 659.0 50.7 C659.6 49.9 660.3 49.1 660.9 48.3 C661.5 47.6 662.2 46.8 662.8 46.0 C663.5 45.2 664.1 44.4 664.8 43.7 C665.5 42.9 666.2 42.2 666.9 41.4 C667.6 40.7 668.3 40.0 669.0 39.3 C669.7 38.6 670.5 37.9 671.2 37.2 C672.0 36.6 672.8 35.9 673.7 35.4 C674.5 34.8 675.3 34.2 676.2 33.7 C677.1 33.2 678.0 32.8 679.0 32.4 C679.9 32.0 680.9 31.7 681.8 31.4 C682.8 31.2 683.8 31.0 684.8 30.8 C685.8 30.7 686.8 30.7 687.9 30.6 C688.9 30.6 689.9 30.7 690.9 30.8 C691.9 30.8 692.9 31.0 693.9 31.2 C694.9 31.3 695.9 31.5 696.9 31.8 C697.9 32.0 698.9 32.3 699.8 32.6 C700.8 32.9 701.7 33.3 702.7 33.7 C703.6 34.1 704.5 34.5 705.5 34.9 C706.4 35.4 707.3 35.9 708.1 36.4 C709.0 36.9 709.9 37.4 710.7 38.0 C711.5 38.6 712.4 39.2 713.2 39.8 C714.0 40.4 714.7 41.1 715.5 41.7 C716.3 42.4 717.0 43.1 717.8 43.8 C718.5 44.5 719.2 45.2 719.9 46.0 C720.6 46.7 721.3 47.4 722.0 48.2 C722.6 49.0 723.3 49.7 723.9 50.5 C724.6 51.3 725.2 52.1 725.8 52.9 C726.4 53.7 727.0 54.5 727.6 55.4 C728.2 56.2 728.8 57.0 729.4 57.8 C730.0 58.7 730.5 59.5 731.1 60.4 C731.6 61.2 732.2 62.1 732.7 62.9 C733.3 63.8 733.8 64.6 734.4 65.5 C734.9 66.4 735.4 67.2 736.0 68.1 C736.5 68.9 737.0 69.8 737.6 70.7 C738.1 71.5 738.6 72.4 739.1 73.3 C739.7 74.2 740.2 75.0 740.7 75.9 C741.2 76.8 741.8 77.6 742.3 78.5 C742.8 79.4 743.4 80.2 743.9 81.1 C744.4 81.9 745.0 82.8 745.5 83.7 C746.1 84.5 746.6 85.4 747.2 86.2 C747.7 87.0 748.3 87.9 748.9 88.7 C749.5 89.6 750.1 90.4 750.7 91.2 C751.2 92.0 751.9 92.8 752.5 93.6 C753.1 94.5 753.7 95.2 754.4 96.0 C755.0 96.8 755.7 97.6 756.3 98.4 C757.0 99.1 757.7 99.9 758.4 100.6 C759.1 101.3 759.8 102.0 760.6 102.7 C761.3 103.4 762.0 104.1 762.8 104.8 C763.6 105.5 764.4 106.1 765.2 106.7 C766.0 107.4 766.8 108.0 767.6 108.5 C768.4 109.1 769.3 109.7 770.1 110.2 C771.0 110.8 771.9 111.3 772.8 111.7 C773.7 112.2 774.6 112.7 775.5 113.1 C776.4 113.6 777.3 114.0 778.3 114.4 C779.2 114.8 780.2 115.1 781.1 115.5 C782.1 115.8 783.0 116.1 784.0 116.4"/>
<path stroke="#0000ff" d="M472.2 43.4 C472.8 42.6 473.4 41.8 474.0 41.0 C474.7 40.2 475.3 39.5 476.0 38.8 C476.8 38.0 477.5 37.3 478.3 36.7 C479.0 36.0 479.8 35.4 480.6 34.8 C481.5 34.3 482.3 33.7 483.2 33.2 C484.1 32.7 485.0 32.3 485.9 31.9 C486.8 31.5 487.8 31.1 488.7 30.8 C489.7 30.5 490.7 30.3 491.7 30.0 C492.6 29.8 493.6 29.7 494.6 29.6 C495.6 29.4 496.7 29.4 497.7 29.4 C498.7 29.3 499.7 29.4 500.7 29.4 C501.7 29.5 502.7 29.6 503.7 29.8 C504.7 29.9 505.7 30.1 506.7 30.3 C507.6 30.6 508.6 30.8 509.6 31.2 C510.5 31.5 511.5 31.8 512.4 32.2 C513.3 32.6 514.2 33.0 515.1 33.5 C516.0 33.9 516.9 34.4 517.8 34.9 C518.6 35.5 519.5 36.0 520.3 36.6 C521.1 37.2 521.9 37.8 522.7 38.5 C523.5 39.1 524.2 39.8 525.0 40.5 C525.7 41.2 526.4 41.9 527.1 42.6 C527.8 43.4 528.4 44.1 529.1 44.9 C529.7 45.7 530.3 46.5 530.9 47.3 C531.5 48.1 532.1 48.9 532.7 49.8 C533.2 50.6 533.8 51.4 534.3 52.3 C534.8 53.1 535.4 54.0 535.9 54.9 C536.4 55.8 536.9 56.6 537.3 57.5 C537.8 58.4 538.3 59.3 538.7 60.2 C539.2 61.1 539.6 62.0 540.0 62.9 C540.5 63.9 540.9 64.8 541.3 65.7 C541.7 66.6 542.1 67.5 542.5 68.5 C542.9 69.4 543.3 70.3 543.7 71.2 C544.1 72.2 544.5 73.1 544.8 74.0 C545.2 75.0 545.6 75.9 546.0 76.8 C546.3 77.8 546.7 78.7 547.1 79.7 C547.4 80.6 547.8 81.5 548.2 82.5 C548.5 83.4 548.9 84.4 549.2 85.3 C549.6 86.2 550.0 87.2 550.3 88.1 C550.7 89.1 551.0 90.0 551.4 91.0 C551.8 91.9 552.1 92.8 552.5 93.8 C552.8 94.7 553.2 95.7 553.5 96.6 C553.9 97.6 554.3 98.5 554.6 99.4 C555.0 100.4 555.3 101.3 555.7 102.3 C556.1 103.2 556.4 104.1 556.8 105.1 C557.1 106.0 557.5 107.0 557.9 107.9 C558.2 108.8 558.6 109.8 559.0 110.7 C559.3 111.7 559.7 112.6 560.1 113.5 C560.4 114.5 560.8 115.4 561.2 116.4 C561.5 117.3 561.9 118.2 562.3 119.2 C562.7 120.1 563.1 121.0 563.4 122.0 C563.8 122.9 564.2 123.8 564.6 124.8 C565.0 125.7 565.4 126.6 565.8 127.5 C566.2 128.5 566.6 129.4 567.0 130.3 C567.4 131.2 567.8 132.2 568.2 133.1 C568.6 134.0 569.0 134.9 569.4 135.8 C569.9 136.8 570.3 137.7 570.7 138.6 C571.1 139.5 571.6 140.4 572.0 141.3 C572.4 142.2 572.9 143.1 573.3 144.0 C573.8 145.0 574.2 145.9 574.7 146.8 C575.1 147.7 575.6 148.6 576.0 149.4 C576.5 150.3 577.0 151.2 577.4 152.1 C577.9 153.0 578.4 153.9 578.9 154.8 C579.4 155.7 579.8 156.6 580.3 157.4 C580.8 158.3 581.3 159.2 581.8 160.1 C582.3 160.9 582.8 161.8 583.4 162.7 C583.9 163.5 584.4 164.4 584.9 165.3 C585.5 166.1 586.0 167.0 586.5 167.8 C587.1 168.7 587.6 169.5 588.2 170.4 C588.7 171.2 589.3 172.1 589.8 172.9 C590.4 173.7 590.9 174.6 591.5 175.4 C592.1 176.2 592.7 177.0 593.3 177.9 C593.9 178.7 594.5 179.5 595.1 180.3 C595.7 181.1 596.3 181.9 597.0 182.6 C597.6 183.4 598.3 184.2 599.0 184.9 C599.7 185.6 600.4 186.4 601.1 187.1 C601.8 187.7 602.6 188.4 603.4 189.1 C604.1 189.7 605.0 190.3 605.8 190.9 C606.6 191.4 607.5 192.0 608.4 192.4 C609.3 192.9 610.2 193.3 611.1 193.7 C612.1 194.0 613.1 194.3 614.0 194.5 C615.0 194.7 616.0 194.8 617.0 194.9 C618.0 194.9 619.1 194.9 620.1 194.8 C621.1 194.7 622.1 194.6 623.0 194.3 C624.0 194.1 625.0 193.8 625.9 193.5 C626.9 193.2 627.8 192.8 628.7 192.3 C629.6 191.9 630.5 191.4 631.4 190.9 C632.2 190.3 633.1 189.8 633.9 189.1 C634.7 188.5 635.4 187.9 636.2 187.2 C637.0 186.6 637.7 185.9 638.4 185.2 C639.1 184.5 639.8 183.7 640.5 183.0 C641.2 182.3 641.9 181.5 642.5 180.7 C643.1 179.9 643.8 179.2 644.4 178.4 C645.0 177.6 645.6 176.8 646.2 175.9 C646.8 175.1 647.4 174.3 647.9 173.5 C648.5 172.6 649.1 171.8 649.6 170.9 C650.2 170.1 650.7 169.2 651.2 168.4 C651.8 167.5 652.3 166.7 652.8 165.8 C653.3 164.9 653.8 164.1 654.3 163.2 C654.8 162.3 655.3 161.4 655.8 160.6 C656.3 159.7 656.8 158.8 657.2 157.9 C657.7 157.0 658.2 156.1 658.7 155.2 C659.1 154.3 659.6 153.4 660.1 152.6 C660.6 151.7 661.0 150.8 661.5 149.9 C662.0 149.0 662.4 148.1 662.9 147.2 C663.4 146.3 663.8 145.4 664.3 144.5 C664.8 143.6 665.2 142.7 665.7 141.8 C666.2 140.9 666.6 140.1 667.1 139.2 C667.6 138.3 668.0 137.4 668.5 136.5 C669.0 135.6 669.4 134.7 669.9 133.8 C670.4 132.9 670.8 132.0 671.3 131.1 C671.8 130.2 672.2 129.3 672.7 128.4 C673.1 127.5 673.6 126.6 674.1 125.7 C674.5 124.8 675.0 124.0 675.4 123.1 C675.9 122.2 676.4 121.3 676.8 120.4 C677.3 119.5 677.7 118.6 678.2 117.7 C678.6 116.8 679.1 115.9 679.6 115.0 C680.0 114.1 680.5 113.2 680.9 112.3 C681.4 111.4 681.8 110.5 682.3 109.6 C682.7 108.6 683.1 107.7 683.6 106.8 C684.0 105.9 684.5 105.0 684.9 104.1 C685.4 103.2 685.8 102.3 686.2 101.4 C686.7 100.5 687.1 99.6 687.5 98.7 C688.0 97.8 688.4 96.8 688.8 95.9 C689.3 95.0 689.7 94.1 690.1 93.2 C690.5 92.3 691.0 91.4 691.4 90.5 C691.8 89.5 692.3 88.6 692.7 87.7 C693.1 86.8 693.5 85.9 694.0 85.0 C694.4 84.1 694.9 83.2 695.3 82.3 C695.7 81.4 696.2 80.5 696.6 79.6 C697.1 78.7 697.5 77.8 698.0 76.9 C698.5 76.0 698.9 75.1 699.4 74.2 C699.9 73.3 700.4 72.4 700.8 71.5 C701.3 70.6 701.8 69.8 702.3 68.9 C702.8 68.0 703.3 67.1 703.9 66.3 C704.4 65.4 704.9 64.6 705.4 63.7 C706.0 62.9 706.5 62.0 707.1 61.2 C707.6 60.3 708.2 59.5 708.8 58.7 C709.4 57.8 710.0 57.0 710.6 56.2 C711.2 55.4 711.8 54.6 712.4 53.8 C713.1 53.1 713.7 52.3 714.4 51.5 C715.0 50.7 715.7 50.0 716.4 49.3 C717.1 48.5 717.8 47.8 718.5 47.1 C719.2 46.4 719.9 45.7 720.7 45.0 C721.4 44.3 722.1 43.6 722.9 43.0 C723.7 42.3 724.5 41.7 725.3 41.1 C726.1 40.5 726.9 39.9 727.7 39.3 C728.5 38.7 729.4 38.2 730.2 37.6 C731.1 37.1 732.0 36.6 732.8 36.1 C733.7 35.6 734.6 35.2 735.5 34.8 C736.5 34.3 737.4 34.0 738.3 33.6 C739.3 33.3 740.3 33.0 741.2 32.7 C742.2 32.4 743.2 32.2 744.2 32.1 C745.2 31.9 746.2 31.8 747.2 31.7 C748.2 31.7 749.2 31.7 750.2 31.8 C751.2 31.9 752.2 32.0 753.2 32.2 C754.2 32.4 755.2 32.7 756.1 33.0 C757.1 33.4 758.0 33.8 758.9 34.2 C759.8 34.7 760.6 35.2 761.5 35.8 C762.3 36.3 763.2 36.9 764.0 37.5 C764.8 38.1 765.6 38.7 766.3 39.4 C767.1 40.0 767.8 40.7 768.6 41.4 C769.3 42.1 770.0 42.8 770.7 43.6 C771.4 44.3 772.1 45.0 772.8 45.8 C773.4 46.5 774.1 47.3 774.8 48.0 C775.4 48.8 776.1 49.6 776.7 50.4 C777.3 51.2 777.9 51.9 778.6 52.7 C779.2 53.5 779.8 54.3 780.4 55.1 C781.0 55.9 781.6 56.8 782.2 57.6 C782.8 58.4 783.4 59.2 784.0 60.0"/>
<path stroke="#ff00ff" d="M472.2 30.6 C473.2 30.7 474.2 30.9 475.2 31.1 C476.2 31.3 477.1 31.6 478.1 31.8 C479.1 32.1 480.0 32.4 481.0 32.7 C481.9 33.1 482.9 33.4 483.8 33.8 C484.7 34.2 485.7 34.6 486.6 35.1 C487.5 35.5 488.4 36.0 489.2 36.5 C490.1 37.0 491.0 37.6 491.8 38.1 C492.6 38.7 493.5 39.2 494.3 39.8 C495.1 40.4 495.9 41.1 496.6 41.7 C497.4 42.4 498.2 43.0 498.9 43.7 C499.6 44.4 500.4 45.1 501.1 45.8 C501.8 46.5 502.4 47.3 503.1 48.0 C503.8 48.8 504.4 49.5 505.1 50.3 C505.7 51.1 506.4 51.9 507.0 52.7 C507.6 53.5 508.2 54.3 508.8 55.1 C509.3 55.9 509.9 56.8 510.5 57.6 C511.0 58.4 511.6 59.3 512.1 60.1 C512.7 61.0 513.2 61.8 513.7 62.7 C514.2 63.6 514.7 64.4 515.2 65.3 C515.7 66.2 516.2 67.1 516.7 67.9 C517.2 68.8 517.7 69.7 518.2 70.6 C518.6 71.5 519.1 72.4 519.6 73.3 C520.0 74.2 520.5 75.1 520.9 76.0 C521.4 76.9 521.8 77.8 522.3 78.7 C522.7 79.6 523.2 80.5 523.6 81.4 C524.0 82.3 524.5 83.2 524.9 84.1 C525.3 85.0 525.7 86.0 526.1 86.9 C526.6 87.8 527.0 88.7 527.4 89.6 C527.8 90.6 528.2 91.5 528.6 92.4 C529.0 93.3 529.4 94.2 529.8 95.2 C530.2 96.1 530.6 97.0 531.0 98.0 C531.4 98.9 531.7 99.8 532.1 100.8 C532.5 101.7 532.9 102.6 533.2 103.6 C533.6 104.5 534.0 105.4 534.3 106.4 C534.7 107.3 535.1 108.2 535.4 109.2 C535.8 110.1 536.2 111.1 536.5 112.0 C536.9 113.0 537.2 113.9 537.6 114.8 C537.9 115.8 538.2 116.7 538.6 117.7 C538.9 118.6 539.3 119.6 539.6 120.5 C539.9 121.5 540.3 122.4 540.6 123.4 C540.9 124.3 541.3 125.3 541.6 126.2 C541.9 127.2 542.2 128.1 542.6 129.1 C542.9 130.0 543.2 131.0 543.5 132.0 C543.8 132.9 544.2 133.9 544.5 134.8 C544.8 135.8 545.1 136.7 545.4 137.7 C545.7 138.7 546.0 139.6 546.3 140.6 C546.6 141.5 546.9 142.5 547.2 143.5 C547.5 144.4 547.8 145.4 548.1 146.3 C548.4 147.3 548.7 148.3 549.0 149.2 C549.3 150.2 549.6 151.2 549.9 152.1 C550.2 153.1 550.5 154.0 550.8 155.0 C551.1 156.0 551.4 156.9 551.7 157.9 C552.0 158.9 552.2 159.8 552.5 160.8 C552.8 161.8 553.1 162.7 553.4 163.7 C553.7 164.7 554.0 165.6 554.3 166.6 C554.5 167.6 554.8 168.5 555.1 169.5 C555.4 170.5 555.7 171.4 556.0 172.4 C556.2 173.4 556.5 174.3 556.8 175.3 C557.1 176.3 557.4 177.2 557.6 178.2 C557.9 179.2 558.2 180.1 558.5 181.1 C558.8 182.1 559.1 183.0 559.3 184.0 C559.6 185.0 559.9 185.9 560.2 186.9 C560.5 187.9 560.7 188.8 561.0 189.8 C561.3 190.8 561.6 191.7 561.9 192.7 C562.2 193.7 562.5 194.6 562.7 195.6 C563.0 196.5 563.3 197.5 563.6 198.5 C563.9 199.4 564.2 200.4 564.5 201.4 C564.8 202.3 565.1 203.3 565.4 204.3 C565.7 205.2 566.0 206.2 566.3 207.1 C566.6 208.1 566.9 209.1 567.2 210.0 C567.5 211.0 567.8 211.9 568.1 212.9 C568.4 213.9 568.7 214.8 569.0 215.8 C569.3 216.7 569.6 217.7 569.9 218.7 C570.2 219.6 570.6 220.6 570.9 221.5 C571.2 222.5 571.5 223.4 571.8 224.4 C572.2 225.3 572.5 226.3 572.8 227.2 C573.2 228.2 573.5 229.1 573.8 230.1 C574.2 231.0 574.5 232.0 574.9 232.9 C575.2 233.9 575.5 234.8 575.9 235.8 C576.2 236.7 576.6 237.7 576.9 238.6 C577.3 239.5 577.7 240.5 578.0 241.4 C578.4 242.4 578.7 243.3 579.1 244.2 C579.5 245.2 579.9 246.1 580.2 247.1 C580.6 248.0 581.0 248.9 581.4 249.8 C581.8 250.8 582.2 251.7 582.5 252.6 C582.9 253.6 583.3 254.5 583.7 255.4 C584.1 256.3 584.5 257.3 584.9 258.2 C585.3 259.1 585.8 260.0 586.2 260.9 C586.6 261.9 587.0 262.8 587.4 263.7 C587.9 264.6 588.3 265.5 588.7 266.4 C589.2 267.3 589.6 268.2 590.0 269.1 C590.5 270.0 590.9 270.9 591.4 271.8 C591.8 272.7 592.3 273.6 592.8 274.5 C593.2 275.4 593.7 276.3 594.2 277.2 C594.6 278.1 595.1 279.0 595.6 279.9 C596.1 280.7 596.6 281.6 597.1 282.5 C597.6 283.4 598.1 284.2 598.6 285.1 C599.1 286.0 599.6 286.8 600.2 287.7 C600.7 288.5 601.2 289.4 601.8 290.2 C602.3 291.1 602.9 291.9 603.4 292.8 C604.0 293.6 604.6 294.4 605.1 295.3 C605.7 296.1 606.3 296.9 606.9 297.7 C607.5 298.5 608.1 299.3 608.7 300.1 C609.3 300.9 610.0 301.7 610.6 302.5 C611.2 303.3 611.9 304.1 612.5 304.8 C613.2 305.6 613.9 306.3 614.5 307.1 C615.2 307.8 615.9 308.6 616.6 309.3 C617.3 310.0 618.0 310.7 618.7 311.4 C619.5 312.1 620.2 312.8 620.9 313.5 C621.7 314.2 622.4 314.8 623.2 315.5 C624.0 316.1 624.8 316.8 625.6 317.4 C626.4 318.0 627.2 318.6 628.0 319.2 C628.8 319.8 629.6 320.4 630.5 320.9 C631.3 321.5 632.2 322.0 633.0 322.5 C633.9 323.0 634.8 323.5 635.7 324.0 C636.6 324.4 637.5 324.9 638.4 325.3 C639.3 325.8 640.2 326.2 641.1 326.6 C642.1 326.9 643.0 327.3 643.9 327.7 C644.9 328.0 645.8 328.3 646.8 328.6 C647.8 328.9 648.7 329.2 649.7 329.5 C650.7 329.7 651.7 330.0 652.6 330.2 C653.6 330.4 654.6 330.6 655.6 330.8 C656.6 331.0 657.6 331.1 658.6 331.2 C659.6 331.4 660.6 331.5 661.6 331.5 C662.6 331.6 663.6 331.7 664.6 331.7 C665.6 331.8 666.6 331.8 667.6 331.8 C668.6 331.8 669.6 331.7 670.6 331.7 C671.7 331.6 672.7 331.5 673.7 331.4 C674.7 331.3 675.7 331.2 676.7 331.0 C677.6 330.9 678.6 330.7 679.6 330.5 C680.6 330.3 681.6 330.1 682.6 329.8 C683.5 329.6 684.5 329.3 685.5 329.0 C686.4 328.7 687.4 328.4 688.3 328.0 C689.3 327.7 690.2 327.3 691.2 326.9 C692.1 326.5 693.0 326.1 693.9 325.7 C694.8 325.3 695.7 324.9 696.6 324.4 C697.5 323.9 698.4 323.5 699.3 323.0 C700.2 322.5 701.0 322.0 701.9 321.4 C702.8 320.9 703.6 320.4 704.5 319.8 C705.3 319.3 706.1 318.7 706.9 318.1 C707.8 317.5 708.6 316.9 709.4 316.3 C710.2 315.7 711.0 315.1 711.8 314.4 C712.5 313.8 713.3 313.2 714.1 312.5 C714.8 311.8 715.6 311.2 716.3 310.5 C717.1 309.8 717.8 309.1 718.5 308.4 C719.3 307.7 720.0 307.0 720.7 306.3 C721.4 305.6 722.1 304.8 722.7 304.1 C723.4 303.4 724.1 302.6 724.8 301.9 C725.4 301.1 726.1 300.3 726.7 299.6 C727.4 298.8 728.0 298.0 728.6 297.2 C729.2 296.4 729.9 295.6 730.5 294.8 C731.1 294.0 731.6 293.2 732.2 292.4 C732.8 291.5 733.4 290.7 733.9 289.9 C734.5 289.0 735.1 288.2 735.6 287.3 C736.1 286.5 736.7 285.6 737.2 284.8 C737.7 283.9 738.2 283.0 738.7 282.2 C739.2 281.3 739.7 280.4 740.2 279.5 C740.7 278.7 741.2 277.8 741.6 276.9 C742.1 276.0 742.5 275.1 743.0 274.2 C743.4 273.3 743.9 272.4 744.3 271.5 C744.7 270.5 745.1 269.6 745.6 268.7 C746.0 267.8 746.4 266.9 746.8 265.9 C747.2 265.0 747.6 264.1 747.9 263.2 C748.3 262.2 748.7 261.3 749.1 260.4 C749.4 259.4 749.8 258.5 750.2 257.5 C750.5 256.6 750.9 255.6 751.2 254.7 C751.5 253.8 751.9 252.8 752.2 251.9 C752.5 250.9 752.9 249.9 753.2 249.0 C753.5 248.0 753.8 247.1 754.1 246.1 C754.4 245.2 754.7 244.2 755.0 243.2 C755.3 242.3 755.6 241.3 755.9 240.3 C756.2 239.4 756.5 238.4 756.7 237.4 C757.0 236.5 757.3 235.5 757.6 234.5 C757.8 233.6 758.1 232.6 758.4 231.6 C758.6 230.7 758.9 229.7 759.1 228.7 C759.4 227.7 759.7 226.8 759.9 225.8 C760.2 224.8 760.4 223.8 760.7 222.9 C760.9 221.9 761.1 220.9 761.4 219.9 C761.6 218.9 761.9 218.0 762.1 217.0 C762.3 216.0 762.6 215.0 762.8 214.1 C763.0 213.1 763.3 212.1 763.5 211.1 C763.7 210.1 764.0 209.2 764.2 208.2 C764.4 207.2 764.7 206.2 764.9 205.2 C765.1 204.2 765.3 203.3 765.6 202.3 C765.8 201.3 766.0 200.3 766.2 199.3 C766.5 198.4 766.7 197.4 766.9 196.4 C767.2 195.4 767.4 194.4 767.6 193.5 C767.8 192.5 768.1 191.5 768.3 190.5 C768.5 189.5 768.8 188.6 769.0 187.6 C769.2 186.6 769.5 185.6 769.7 184.6 C770.0 183.7 770.2 182.7 770.4 181.7 C770.7 180.7 770.9 179.7 771.2 178.8 C771.4 177.8 771.7 176.8 771.9 175.8 C772.2 174.9 772.4 173.9 772.7 172.9 C772.9 171.9 773.2 171.0 773.5 170.0 C773.7 169.0 774.0 168.1 774.3 167.1 C774.5 166.1 774.8 165.2 775.1 164.2 C775.4 163.2 775.7 162.3 775.9 161.3 C776.2 160.3 776.5 159.4 776.8 158.4 C777.1 157.4 777.4 156.5 777.7 155.5 C778.0 154.6 778.4 153.6 778.7 152.6 C779.0 151.7 779.3 150.7 779.7 149.8 C780.0 148.8 780.3 147.9 780.7 146.9 C781.0 146.0 781.4 145.1 781.7 144.1 C782.1 143.2 782.5 142.2 782.9 141.3 C783.2 140.4 783.6 139.4 784.0 138.5"/>
<path stroke="#008000" d="M472.2 187.0 C472.7 187.9 473.2 188.8 473.7 189.7 C474.1 190.5 474.6 191.4 475.1 192.3 C475.6 193.2 476.1 194.1 476.6 195.0 C477.0 195.9 477.5 196.8 478.0 197.7 C478.5 198.5 479.0 199.4 479.5 200.3 C479.9 201.2 480.4 202.1 480.9 203.0 C481.4 203.9 481.9 204.8 482.3 205.7 C482.8 206.5 483.3 207.4 483.8 208.3 C484.3 209.2 484.7 210.1 485.2 211.0 C485.7 211.9 486.2 212.8 486.7 213.7 C487.1 214.6 487.6 215.5 488.1 216.4 C488.6 217.2 489.0 218.1 489.5 219.0 C490.0 219.9 490.5 220.8 490.9 221.7 C491.4 222.6 491.9 223.5 492.4 224.4 C492.8 225.3 493.3 226.2 493.8 227.1 C494.3 228.0 494.7 228.9 495.2 229.8 C495.7 230.6 496.1 231.5 496.6 232.4 C497.1 233.3 497.5 234.2 498.0 235.1 C498.5 236.0 499.0 236.9 499.4 237.8 C499.9 238.7 500.4 239.6 500.8 240.5 C501.3 241.4 501.8 242.3 502.2 243.2 C502.7 244.1 503.1 245.0 503.6 245.9 C504.1 246.8 504.5 247.7 505.0 248.6 C505.5 249.5 505.9 250.4 506.4 251.3 C506.8 252.2 507.3 253.1 507.8 254.0 C508.2 254.9 508.7 255.8 509.1 256.7 C509.6 257.6 510.1 258.5 510.5 259.4 C511.0 260.3 511.4 261.2 511.9 262.1 C512.4 263.0 512.8 263.9 513.3 264.8 C513.8 265.7 514.2 266.6 514.7 267.5 C515.1 268.4 515.6 269.3 516.1 270.2 C516.5 271.1 517.0 272.0 517.5 272.9 C517.9 273.8 518.4 274.7 518.9 275.6 C519.3 276.5 519.8 277.4 520.3 278.3 C520.7 279.2 521.2 280.1 521.7 281.0 C522.2 281.8 522.6 282.7 523.1 283.6 C523.6 284.5 524.1 285.4 524.6 286.3 C525.0 287.2 525.5 288.1 526.0 289.0 C526.5 289.8 527.0 290.7 527.5 291.6 C528.0 292.5 528.5 293.4 529.0 294.3 C529.5 295.1 530.0 296.0 530.5 296.9 C531.0 297.8 531.5 298.6 532.0 299.5 C532.5 300.4 533.0 301.3 533.5 302.1 C534.1 303.0 534.6 303.9 535.1 304.7 C535.6 305.6 536.1 306.5 536.7 307.3 C537.2 308.2 537.7 309.1 538.3 309.9 C538.8 310.8 539.4 311.6 539.9 312.5 C540.5 313.3 541.0 314.2 541.6 315.0 C542.1 315.8 542.7 316.7 543.3 317.5 C543.9 318.3 544.5 319.1 545.1 320.0 C545.7 320.8 546.3 321.6 546.9 322.4 C547.5 323.2 548.2 324.0 548.8 324.7 C549.5 325.5 550.1 326.3 550.8 327.0 C551.5 327.8 552.2 328.5 552.9 329.2 C553.6 330.0 554.3 330.7 555.0 331.4 C555.8 332.1 556.5 332.8 557.3 333.4 C558.1 334.1 558.8 334.7 559.6 335.3 C560.4 335.9 561.3 336.5 562.1 337.1 C562.9 337.7 563.8 338.2 564.7 338.7 C565.5 339.3 566.4 339.8 567.3 340.2 C568.2 340.7 569.1 341.1 570.0 341.6 C570.9 342.0 571.9 342.4 572.8 342.7 C573.8 343.1 574.7 343.4 575.7 343.8 C576.6 344.1 577.6 344.4 578.6 344.6 C579.6 344.9 580.5 345.1 581.5 345.3 C582.5 345.5 583.5 345.7 584.5 345.9 C585.5 346.0 586.5 346.2 587.5 346.2 C588.5 346.3 589.5 346.4 590.6 346.5 C591.6 346.5 592.6 346.5 593.6 346.5 C594.6 346.5 595.6 346.5 596.6 346.4 C597.6 346.4 598.6 346.4 599.7 346.3 C600.7 346.2 601.7 346.1 602.7 346.0 C603.7 345.9 604.7 345.8 605.7 345.7 C606.7 345.6 607.7 345.5 608.7 345.4 C609.7 345.3 610.7 345.1 611.7 345.0 C612.7 344.9 613.7 344.8 614.7 344.7 C615.7 344.6 616.7 344.4 617.8 344.3 C618.8 344.2 619.8 344.1 620.8 344.1 C621.8 344.0 622.8 343.9 623.8 343.8 C624.8 343.8 625.8 343.7 626.8 343.7 C627.8 343.7 628.9 343.6 629.9 343.6 C630.9 343.6 631.9 343.7 632.9 343.7 C633.9 343.7 634.9 343.8 635.9 343.9 C636.9 343.9 637.9 344.0 639.0 344.1 C640.0 344.2 641.0 344.3 642.0 344.4 C643.0 344.5 644.0 344.6 645.0 344.7 C646.0 344.9 647.0 345.0 648.0 345.1 C649.0 345.2 650.0 345.4 651.0 345.5 C652.0 345.6 653.0 345.7 654.0 345.8 C655.0 346.0 656.0 346.1 657.0 346.2 C658.0 346.3 659.0 346.4 660.1 346.5 C661.1 346.5 662.1 346.6 663.1 346.7 C664.1 346.7 665.1 346.8 666.1 346.8 C667.1 346.8 668.1 346.8 669.1 346.8 C670.2 346.7 671.2 346.7 672.2 346.6 C673.2 346.5 674.2 346.4 675.2 346.2 C676.2 346.1 677.2 345.9 678.2 345.7 C679.1 345.4 680.1 345.1 681.1 344.8 C682.0 344.5 683.0 344.1 683.9 343.7 C684.8 343.2 685.7 342.7 686.6 342.2 C687.4 341.7 688.3 341.2 689.1 340.6 C689.9 340.0 690.7 339.4 691.5 338.7 C692.3 338.1 693.0 337.4 693.8 336.7 C694.5 336.0 695.2 335.3 695.9 334.6 C696.6 333.8 697.3 333.1 697.9 332.3 C698.6 331.5 699.2 330.7 699.8 329.9 C700.5 329.1 701.1 328.3 701.6 327.5 C702.2 326.7 702.8 325.8 703.4 325.0 C703.9 324.2 704.5 323.3 705.0 322.4 C705.5 321.6 706.0 320.7 706.6 319.8 C707.1 319.0 707.6 318.1 708.0 317.2 C708.5 316.3 709.0 315.4 709.5 314.5 C710.0 313.6 710.4 312.7 710.9 311.8 C711.3 310.9 711.8 310.0 712.2 309.1 C712.6 308.2 713.1 307.3 713.5 306.4 C713.9 305.4 714.3 304.5 714.8 303.6 C715.2 302.7 715.6 301.7 716.0 300.8 C716.4 299.9 716.8 299.0 717.2 298.0 C717.6 297.1 718.0 296.2 718.4 295.2 C718.8 294.3 719.1 293.4 719.5 292.4 C719.9 291.5 720.3 290.6 720.7 289.6 C721.1 288.7 721.5 287.8 721.9 286.8 C722.3 285.9 722.6 285.0 723.0 284.0 C723.4 283.1 723.8 282.2 724.2 281.2 C724.6 280.3 725.0 279.4 725.4 278.4 C725.8 277.5 726.2 276.6 726.6 275.6 C727.0 274.7 727.3 273.8 727.7 272.8 C728.1 271.9 728.5 271.0 728.9 270.0 C729.3 269.1 729.7 268.2 730.1 267.2 C730.4 266.3 730.8 265.4 731.2 264.4 C731.6 263.5 732.0 262.6 732.3 261.6 C732.7 260.7 733.1 259.7 733.5 258.8 C733.8 257.9 734.2 256.9 734.6 256.0 C735.0 255.0 735.3 254.1 735.7 253.2 C736.1 252.2 736.4 251.3 736.8 250.3 C737.2 249.4 737.5 248.4 737.9 247.5 C738.3 246.6 738.6 245.6 739.0 244.7 C739.4 243.7 739.8 242.8 740.1 241.9 C740.5 240.9 740.9 240.0 741.2 239.0 C741.6 238.1 742.0 237.1 742.4 236.2 C742.7 235.3 743.1 234.3 743.5 233.4 C743.9 232.5 744.2 231.5 744.6 230.6 C745.0 229.6 745.4 228.7 745.8 227.8 C746.1 226.8 746.5 225.9 746.9 225.0 C747.3 224.0 747.7 223.1 748.1 222.2 C748.5 221.2 748.9 220.3 749.3 219.4 C749.7 218.4 750.1 217.5 750.5 216.6 C750.9 215.7 751.3 214.7 751.7 213.8 C752.1 212.9 752.5 212.0 753.0 211.0 C753.4 210.1 753.8 209.2 754.2 208.3 C754.7 207.4 755.1 206.5 755.6 205.6 C756.0 204.7 756.5 203.8 757.0 202.9 C757.4 202.0 757.9 201.1 758.4 200.2 C758.9 199.3 759.4 198.4 759.9 197.6 C760.4 196.7 761.0 195.8 761.5 195.0 C762.1 194.1 762.6 193.3 763.2 192.5 C763.8 191.6 764.4 190.8 765.0 190.0 C765.6 189.2 766.2 188.4 766.9 187.7 C767.6 186.9 768.2 186.1 768.9 185.4 C769.6 184.7 770.4 184.0 771.1 183.3 C771.9 182.6 772.6 182.0 773.4 181.3 C774.2 180.7 775.0 180.1 775.9 179.6 C776.7 179.0 777.6 178.5 778.5 178.0 C779.4 177.5 780.3 177.0 781.2 176.6 C782.1 176.2 783.1 175.9 784.0 175.5"/>
</g>
<text x="472.2" y="373.9" text-anchor="middle" class="t">1.0</text>
<text x="534.6" y="373.9" text-anchor="middle" class="t">1.1</text>
<text x="597.1" y="373.9" text-anchor="middle" class="t">1.2</text>
<text x="659.5" y="373.9" text-anchor="middle" class="t">1.3</text>
<text x="722.0" y="373.9" text-anchor="middle" class="t">1.4</text>
<text x="784.4" y="373.9" text-anchor="middle" class="t">1.5</text>
<text x="463.2" y="35.6" text-anchor="end" class="t">1.0</text>
<text x="463.2" y="115.4" text-anchor="end" class="t">0.5</text>
<text x="463.2" y="195.2" text-anchor="end" class="t">0.0</text>
<text x="463.2" y="275.0" text-anchor="end" class="t">-0.5</text>
<text x="463.2" y="354.8" text-anchor="end" class="t">-1.0</text>
<path d="M618.8 207.4 H664.4" stroke="#000000" stroke-width="3" fill="none"/>
<text x="669.6" y="213.9" class="lg">P90</text>
<path d="M618.8 231.3 H664.4" stroke="#ff0000" stroke-width="3" fill="none"/>
<text x="669.6" y="237.8" class="lg">P135</text>
<path d="M618.8 255.3 H664.4" stroke="#0000ff" stroke-width="3" fill="none"/>
<text x="669.6" y="261.8" class="lg">P180</text>
<path d="M618.8 279.2 H664.4" stroke="#ff00ff" stroke-width="3" fill="none"/>
<text x="669.6" y="285.8" class="lg">P225</text>
<path d="M618.8 303.2 H664.4" stroke="#008000" stroke-width="3" fill="none"/>
<text x="669.6" y="309.7" class="lg">P270</text>
<text x="631.5" y="17.0" text-anchor="middle" class="ti">Experiments</text>
<text x="401.3" y="28.9" class="ti">(b)</text>
<text x="628.6" y="400.1" text-anchor="middle" class="ti">Frequency (THz)</text>
<text transform="translate(423.8 203.5) rotate(-90)" text-anchor="middle" class="ti" style="font-size:22.7px">Ellipticity</text>
</svg>
</body></html>
